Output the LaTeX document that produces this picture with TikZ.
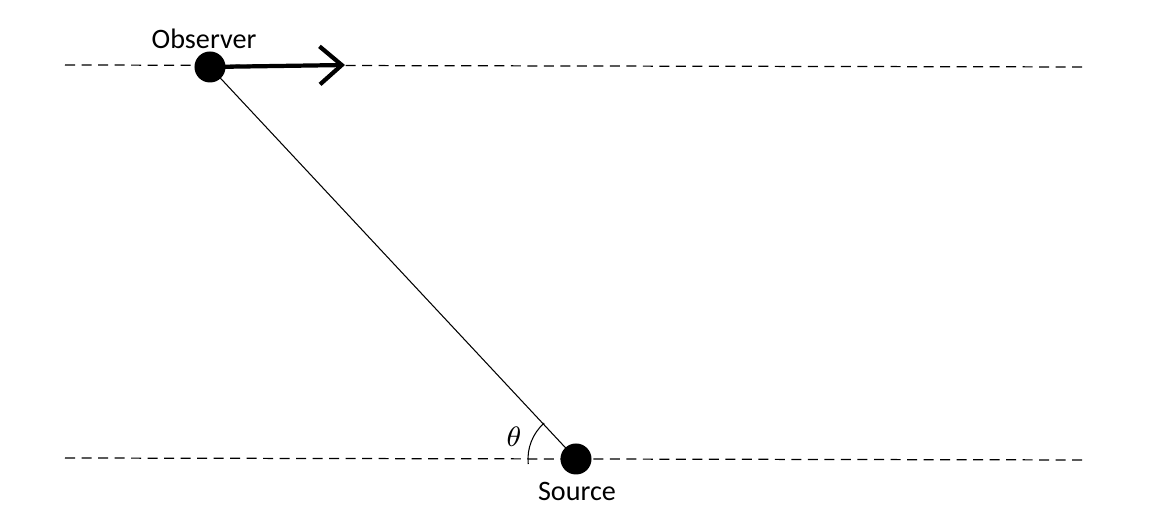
\documentclass[tikz,border=0pt]{standalone}
\usepackage{fontspec}
\setmainfont{Carlito}
\usetikzlibrary{arrows.meta}
\begin{document}
\begin{tikzpicture}[x=0.01cm,y=-0.01cm,
  dline/.style={dash pattern=on 0.1cm off 0.065cm, line width=0.35pt},
  dot/.style={circle,fill=black,inner sep=0pt,minimum size=0.31cm},
  lbl/.style={font=\fontsize{8pt}{10pt}\selectfont}]
\useasboundingbox (0,0) rectangle (1159,528);
\coordinate (t1) at (65,65); \coordinate (t2) at (1088,67);
\coordinate (b1) at (65,458); \coordinate (b2) at (1088,460);
\draw[dline] (t1) -- (t2);
\draw[dline] (b1) -- (b2);
\node[dot] (obs) at (210,67) {};
\node[dot] (src) at (576,459) {};
\coordinate (tip) at (345,65);
\draw[line width=0.3pt] (obs.center) -- (src.center);
\draw[line width=1.2pt,-{Straight Barb[length=0.22cm,width=0.38cm]}] (obs.center) -- (tip);
\draw[line width=0.3pt] (src.center) ++(228.5:48) arc[start angle=228.5,end angle=174,radius=48];
\node[lbl] (olab) at (204,39) {Observer};
\node[lbl] (slab) at (577,491) {Source};
\node[font=\fontsize{8pt}{10pt}\selectfont] (th) at (514,437) {$\theta$};
\end{tikzpicture}
\end{document}
